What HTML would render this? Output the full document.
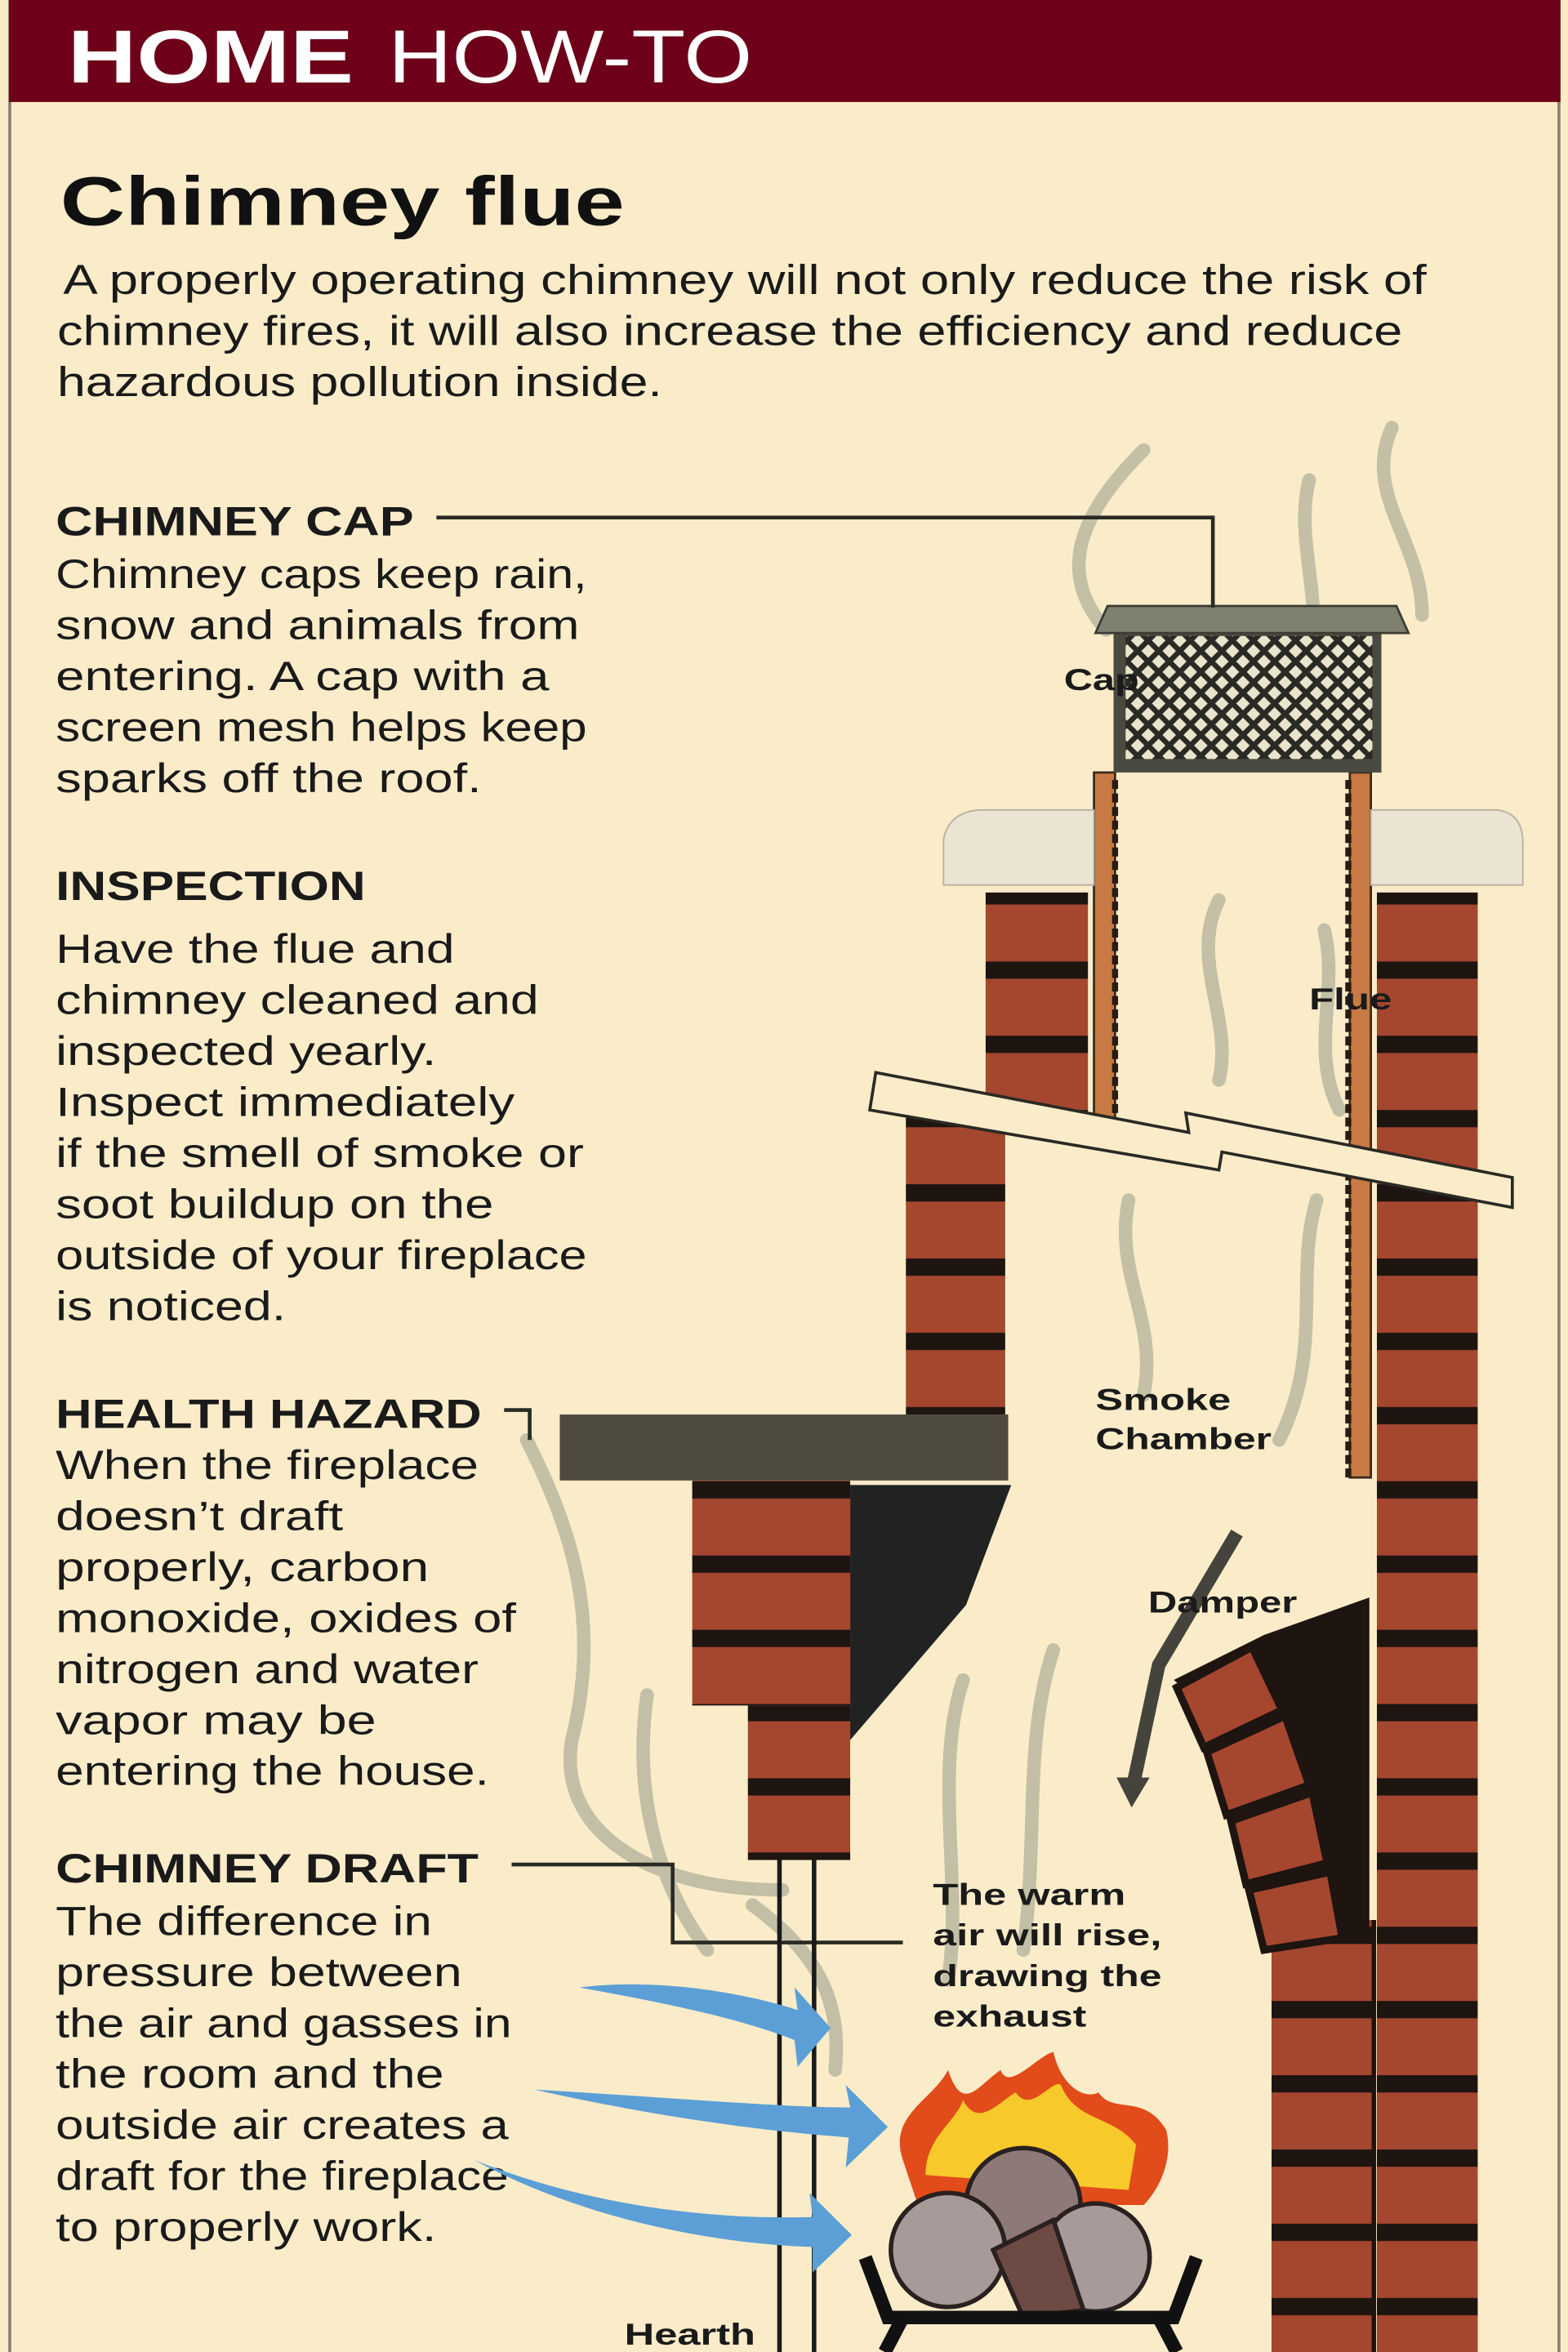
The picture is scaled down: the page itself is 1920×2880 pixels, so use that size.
<!DOCTYPE html>
<html><head><meta charset="utf-8"><style>
html,body{margin:0;padding:0;background:#fbecc9}
svg{display:block}
text{font-family:"Liberation Sans",Arial,sans-serif}
</style></head><body>
<svg width="1920" height="2880" viewBox="0 0 1042 1568" preserveAspectRatio="none" xmlns="http://www.w3.org/2000/svg">
<defs>
<pattern id="br" patternUnits="userSpaceOnUse" x="0" y="595" width="200" height="49.5">
<rect width="200" height="49.5" fill="#1e1410"/>
<rect y="8" width="200" height="38" fill="#a5462f"/>
</pattern>
<pattern id="mesh" patternUnits="userSpaceOnUse" width="14" height="14">
<rect width="14" height="14" fill="#e9e4cc"/>
<path d="M0 0L14 14M14 0L0 14" stroke="#2a2a24" stroke-width="3.5"/>
</pattern>
</defs>
<rect width="1042" height="1568" fill="#fbecc9"/>
<line x1="6.5" y1="0" x2="6.5" y2="1568" stroke="#8a8070" stroke-width="2"/>
<line x1="1036" y1="0" x2="1036" y2="1568" stroke="#8a8070" stroke-width="2"/>
<rect x="6" y="0" width="1031" height="68" fill="#6e0019"/>
<text x="45" y="55" font-size="50" font-weight="bold" fill="#fff" textLength="190" lengthAdjust="spacingAndGlyphs">HOME</text>
<text x="258" y="55" font-size="50" fill="#fff" textLength="242" lengthAdjust="spacingAndGlyphs">HOW-TO</text>
<text x="40" y="150" font-size="46" font-weight="bold" fill="#111" textLength="375" lengthAdjust="spacingAndGlyphs">Chimney flue</text>
<g font-size="28" fill="#1a1a1a" lengthAdjust="spacingAndGlyphs">
<text x="42" y="196" textLength="906" lengthAdjust="spacingAndGlyphs">A properly operating chimney will not only reduce the risk of</text>
<text x="38" y="230" textLength="894" lengthAdjust="spacingAndGlyphs">chimney fires, it will also increase the efficiency and reduce</text>
<text x="38" y="264" textLength="402" lengthAdjust="spacingAndGlyphs">hazardous pollution inside.</text>
</g>
<g fill="#1a1a1a" font-size="27">
<text x="37" y="357" font-weight="bold" textLength="238" lengthAdjust="spacingAndGlyphs">CHIMNEY CAP</text>
<text x="37" y="392" textLength="353" lengthAdjust="spacingAndGlyphs">Chimney caps keep rain,</text>
<text x="37" y="426" textLength="348" lengthAdjust="spacingAndGlyphs">snow and animals from</text>
<text x="37" y="460" textLength="328" lengthAdjust="spacingAndGlyphs">entering. A cap with a</text>
<text x="37" y="494" textLength="353" lengthAdjust="spacingAndGlyphs">screen mesh helps keep</text>
<text x="37" y="528" textLength="283" lengthAdjust="spacingAndGlyphs">sparks off the roof.</text>
<text x="37" y="600" font-weight="bold" textLength="206" lengthAdjust="spacingAndGlyphs">INSPECTION</text>
<text x="37" y="642" textLength="265" lengthAdjust="spacingAndGlyphs">Have the flue and</text>
<text x="37" y="676" textLength="321" lengthAdjust="spacingAndGlyphs">chimney cleaned and</text>
<text x="37" y="710" textLength="253" lengthAdjust="spacingAndGlyphs">inspected yearly.</text>
<text x="37" y="744" textLength="305" lengthAdjust="spacingAndGlyphs">Inspect immediately</text>
<text x="37" y="778" textLength="351" lengthAdjust="spacingAndGlyphs">if the smell of smoke or</text>
<text x="37" y="812" textLength="291" lengthAdjust="spacingAndGlyphs">soot buildup on the</text>
<text x="37" y="846" textLength="353" lengthAdjust="spacingAndGlyphs">outside of your fireplace</text>
<text x="37" y="880" textLength="153" lengthAdjust="spacingAndGlyphs">is noticed.</text>
<text x="37" y="952" font-weight="bold" textLength="283" lengthAdjust="spacingAndGlyphs">HEALTH HAZARD</text>
<text x="37" y="986" textLength="281" lengthAdjust="spacingAndGlyphs">When the fireplace</text>
<text x="37" y="1020" textLength="191" lengthAdjust="spacingAndGlyphs">doesn’t draft</text>
<text x="37" y="1054" textLength="248" lengthAdjust="spacingAndGlyphs">properly, carbon</text>
<text x="37" y="1088" textLength="306" lengthAdjust="spacingAndGlyphs">monoxide, oxides of</text>
<text x="37" y="1122" textLength="281" lengthAdjust="spacingAndGlyphs">nitrogen and water</text>
<text x="37" y="1156" textLength="213" lengthAdjust="spacingAndGlyphs">vapor  may be</text>
<text x="37" y="1190" textLength="288" lengthAdjust="spacingAndGlyphs">entering the house.</text>
<text x="37" y="1255" font-weight="bold" textLength="281" lengthAdjust="spacingAndGlyphs">CHIMNEY DRAFT</text>
<text x="37" y="1290" textLength="250" lengthAdjust="spacingAndGlyphs">The difference in</text>
<text x="37" y="1324" textLength="270" lengthAdjust="spacingAndGlyphs">pressure between</text>
<text x="37" y="1358" textLength="303" lengthAdjust="spacingAndGlyphs">the air and gasses in</text>
<text x="37" y="1392" textLength="258" lengthAdjust="spacingAndGlyphs">the room and the</text>
<text x="37" y="1426" textLength="301" lengthAdjust="spacingAndGlyphs">outside air creates a</text>
<text x="37" y="1460" textLength="301" lengthAdjust="spacingAndGlyphs">draft for the fireplace</text>
<text x="37" y="1494" textLength="253" lengthAdjust="spacingAndGlyphs">to properly work.</text>
</g>
<!-- smoke wisps -->
<g fill="none" stroke="#b9b8a0" stroke-width="9" stroke-linecap="round" opacity="0.85">
<path d="M760 300 C720 340 700 380 735 420"/>
<path d="M870 320 C860 360 880 400 870 440"/>
<path d="M925 285 C905 330 945 360 945 410"/>
<path d="M810 600 C790 640 820 680 810 720"/>
<path d="M880 620 C890 660 870 700 890 740"/>
<path d="M750 800 C740 850 770 880 760 930"/>
<path d="M875 800 C860 850 880 900 850 960"/>
<path d="M350 960 C380 1020 400 1080 380 1160 C370 1220 430 1260 520 1260"/>
<path d="M430 1130 C420 1200 440 1260 470 1300"/>
<path d="M640 1120 C620 1180 640 1260 630 1320"/>
<path d="M700 1100 C680 1160 690 1230 680 1300"/>
<path d="M500 1270 C540 1300 560 1330 555 1380"/>
</g>
<!-- bricks -->
<rect x="915" y="595" width="67" height="973" fill="url(#br)"/>
<rect x="655" y="595" width="68" height="150" fill="url(#br)"/>
<rect x="602" y="745" width="66" height="198" fill="url(#br)"/>
<rect x="460" y="987" width="105" height="150" fill="url(#br)"/>
<rect x="497" y="1137" width="68" height="103" fill="url(#br)"/>
<rect x="845" y="1280" width="68" height="288" fill="url(#br)"/>
<line x1="913" y1="1280" x2="913" y2="1568" stroke="#1e1410" stroke-width="3"/>
<!-- arch bricks -->
<path d="M910 1065 L910 1290 L845 1290 C840 1200 820 1150 780 1120 L840 1090 Z" fill="#1e1410"/>
<g fill="#a5462f" stroke="#1e1410" stroke-width="5">
<path d="M782 1125 L832 1098 L852 1140 L800 1165 Z"/>
<path d="M802 1168 L854 1144 L870 1190 L815 1210 Z"/>
<path d="M818 1214 L872 1195 L882 1242 L828 1256 Z"/>
<path d="M830 1260 L884 1248 L892 1292 L840 1300 Z"/>
</g>
<!-- flue tiles -->
<rect x="727" y="515" width="14" height="232" fill="#c77a44" stroke="#3a2a1a" stroke-width="1.5"/>
<rect x="897" y="515" width="14" height="470" fill="#c77a44" stroke="#3a2a1a" stroke-width="1.5"/>
<path d="M741 520 L741 745" stroke="#2a1a10" stroke-width="4" stroke-dasharray="6 3"/>
<path d="M896 520 L896 985" stroke="#2a1a10" stroke-width="4" stroke-dasharray="6 3"/>
<!-- crown -->
<path d="M627 590 L627 560 Q630 542 650 540 L727 540 L727 590 Z" fill="#ece4d2" stroke="#b8b0a0"/>
<path d="M911 540 L995 540 Q1012 542 1012 562 L1012 590 L911 590 Z" fill="#ece4d2" stroke="#b8b0a0"/>
<!-- cap -->
<rect x="740" y="420" width="178" height="95" fill="#4a4a40"/>
<rect x="748" y="424" width="164" height="82" fill="url(#mesh)"/>
<polygon points="728,422 936,422 928,404 736,404" fill="#7f8070" stroke="#3c3c34" stroke-width="1.5"/>
<!-- diagonal break band -->
<path d="M582 715 L790 755 L788 742 L1005 785 L1005 805 L812 768 L810 780 L578 740 Z" fill="#fbecc9" stroke="#2a2a24" stroke-width="2"/>
<!-- mantel and wedge -->
<rect x="372" y="943" width="298" height="44" fill="#4f4a3e"/>
<polygon points="565,990 672,990 642,1070 565,1160" fill="#222"/>
<!-- damper -->
<path d="M822 1022 L770 1110 L752 1195" fill="none" stroke="#44443c" stroke-width="9"/>
<polygon points="742,1185 764,1185 752,1205" fill="#44443c"/>
<!-- leader lines -->
<g fill="none" stroke="#2a2a24" stroke-width="2.5">
<path d="M290 345 L806 345 L806 405"/>
<path d="M335 940 L352 940 L352 960"/>
<path d="M340 1243 L447 1243 L447 1295 L600 1295"/>
</g>
<!-- hearth lines -->
<line x1="518" y1="1240" x2="518" y2="1568" stroke="#1a1a1a" stroke-width="3"/>
<line x1="541" y1="1240" x2="541" y2="1568" stroke="#1a1a1a" stroke-width="3"/>
<!-- blue arrows -->
<g fill="#5b9fd6">
<path d="M385 1325 C440 1318 500 1330 530 1340 L528 1325 L552 1352 L530 1378 L528 1360 C490 1345 440 1335 385 1325 Z"/>
<path d="M355 1393 C440 1398 520 1405 565 1405 L562 1390 L590 1418 L562 1445 L564 1425 C500 1420 430 1410 355 1393 Z"/>
<path d="M315 1440 C390 1470 470 1480 540 1478 L538 1462 L566 1490 L540 1515 L540 1498 C460 1495 380 1475 315 1440 Z"/>
</g>
<!-- fire -->
<path d="M600 1440 C590 1410 620 1400 630 1380 C640 1410 650 1390 665 1380 C670 1395 690 1370 700 1368 C705 1390 720 1400 730 1395 C740 1410 760 1395 775 1420 C780 1440 770 1460 760 1470 L610 1470 Z" fill="#e24b1a"/>
<path d="M615 1450 C615 1425 635 1415 640 1400 C650 1420 665 1400 675 1395 C685 1410 700 1385 705 1390 C715 1415 740 1410 755 1430 L750 1460 Z" fill="#f7c92a"/>
<!-- logs -->
<g stroke="#2a2020" stroke-width="3">
<circle cx="680" cy="1470" r="38" fill="#8d7a78"/>
<circle cx="630" cy="1500" r="38" fill="#a89a98"/>
<circle cx="728" cy="1505" r="36" fill="#a89a98"/>
<path d="M660 1500 L700 1480 L720 1540 L680 1545 Z" fill="#6e4a44"/>
</g>
<!-- grate -->
<path d="M575 1505 L590 1545 L780 1545 L795 1505" fill="none" stroke="#111" stroke-width="9"/>
<path d="M600 1545 L588 1568 M770 1545 L782 1568" stroke="#111" stroke-width="9"/>
<!-- labels -->
<g font-size="20" font-weight="bold" fill="#1a1a1a">
<text x="707" y="460" textLength="50" lengthAdjust="spacingAndGlyphs">Cap</text>
<text x="870" y="673" textLength="55" lengthAdjust="spacingAndGlyphs">Flue</text>
<text x="728" y="940" textLength="90" lengthAdjust="spacingAndGlyphs">Smoke</text>
<text x="728" y="966" textLength="117" lengthAdjust="spacingAndGlyphs">Chamber</text>
<text x="763" y="1075" textLength="99" lengthAdjust="spacingAndGlyphs">Damper</text>
<text x="620" y="1270" textLength="128" lengthAdjust="spacingAndGlyphs">The warm</text>
<text x="620" y="1297" textLength="152" lengthAdjust="spacingAndGlyphs">air will rise,</text>
<text x="620" y="1324" textLength="152" lengthAdjust="spacingAndGlyphs">drawing the</text>
<text x="620" y="1351" textLength="102" lengthAdjust="spacingAndGlyphs">exhaust</text>
<text x="415" y="1563" textLength="87" lengthAdjust="spacingAndGlyphs">Hearth</text>
</g>
</svg>
</body></html>
